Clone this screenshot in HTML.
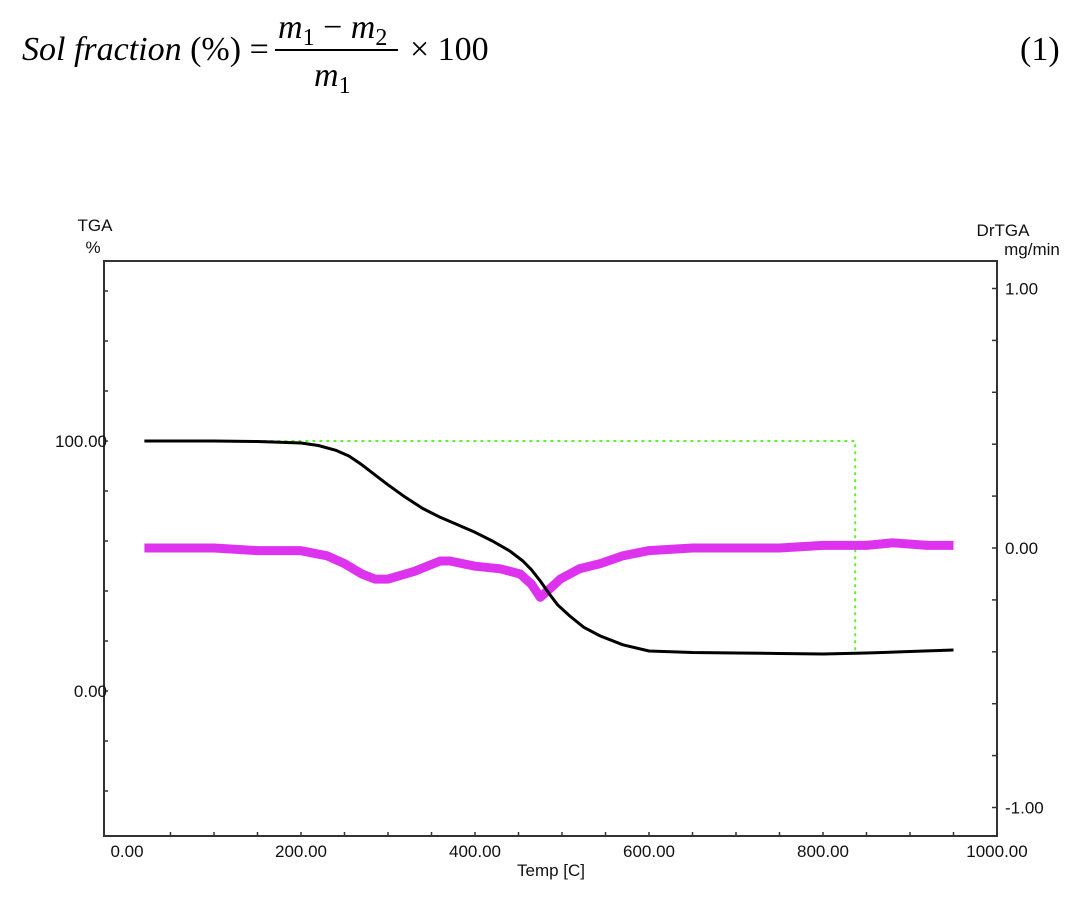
<!DOCTYPE html>
<html><head><meta charset="utf-8"><style>
html,body{margin:0;padding:0;background:#fff;}
svg{display:block;}
.ax{font-family:"Liberation Sans",sans-serif;font-size:17px;fill:#111;}
.eq{font-family:"Liberation Serif",serif;font-size:34px;fill:#000;}
</style></head><body>
<svg id="chart" width="1078" height="903" viewBox="0 0 1078 903" xmlns="http://www.w3.org/2000/svg">
<g>
<text class="eq" x="22" y="60" font-style="italic">Sol fraction <tspan font-style="normal">(%) =</tspan></text>
<text class="eq" x="278" y="38" font-style="italic">m<tspan font-size="24" dy="7" font-style="normal">1</tspan><tspan dy="-7" font-style="normal"> − </tspan>m<tspan font-size="24" dy="7" font-style="normal">2</tspan></text>
<line x1="275" y1="50" x2="398" y2="50" stroke="#000" stroke-width="2"/>
<text class="eq" x="314" y="86" font-style="italic">m<tspan font-size="24" dy="7" font-style="normal">1</tspan></text>
<text class="eq" x="410" y="60">× 100</text>
<text class="eq" x="1020" y="60">(1)</text>
</g>
<g id="plot"></g>
</svg>
<script>
const xTicks=[0,200,400,600,800,1000];
const xTickLabels=["0.00","200.00","400.00","600.00","800.00","1000.00"];
const leftTicks=[0,100];
const leftTickLabels=["0.00","100.00"];
const rightTicks=[-1,0,1];
const rightTickLabels=["-1.00","0.00","1.00"];
const tgaTemp=[20,100,150,200,220,240,255,270,285,300,320,340,360,380,400,420,440,455,465,475,485,495,509,525,544,570,600,650,700,750,800,850,900,950];
const tgaVal=[100,100,99.8,99.2,98.2,96.3,94,90.5,86.5,82.5,77.5,73,69.5,66.5,63.5,60,56,52,48.5,44,39,34.5,30,25.5,22,18.5,16,15.4,15.2,15,14.8,15.2,15.8,16.4];
const dtgTemp=[20,60,100,150,199,230,250,270,285,300,330,360,371,400,429,452,465,475,485,498,520,544,570,600,650,700,750,800,850,880,920,950];
const dtgVal=[0,0,0,-0.01,-0.01,-0.03,-0.06,-0.1,-0.12,-0.12,-0.09,-0.05,-0.05,-0.07,-0.08,-0.1,-0.14,-0.19,-0.16,-0.12,-0.08,-0.06,-0.03,-0.01,0,0,0,0.01,0.01,0.02,0.01,0.01];
const baseTemp=[20,837,837];
const baseVal=[100,100,15];

const X0=104,X1=997,Y0=261,Y1=836;
const x=t=>127+t*0.87;
const yL=v=>691-v*2.5;
const yR=v=>548-v*259.5;
const NS="http://www.w3.org/2000/svg";
const g=document.getElementById('plot');
function mk(tag,attrs){const e=document.createElementNS(NS,tag);for(const k in attrs)e.setAttribute(k,attrs[k]);g.appendChild(e);return e;}

let fr=mk('rect',{x:X0,y:Y0,width:X1-X0,height:Y1-Y0,fill:'none',stroke:'#333','stroke-width':2});



for(let t=50;t<1000;t+=50){let l=mk('line',{x1:x(t),x2:x(t),y1:Y1,y2:Y1-4,stroke:'#333','stroke-width':1.5});

}
xTicks.forEach((t,i)=>{let tx=mk('text',{x:x(t),y:Y1+21,'text-anchor':'middle',class:'ax'});tx.textContent=xTickLabels[i];

});
for(let v=-40;v<=160;v+=20){let l=mk('line',{x1:X0,x2:X0+4,y1:yL(v),y2:yL(v),stroke:'#333','stroke-width':1.5});

}
leftTicks.forEach((v,i)=>{let tx=mk('text',{x:X0+3,y:yL(v)+6,'text-anchor':'end',class:'ax'});tx.textContent=leftTickLabels[i];

});
for(let v=-1;v<=1.01;v+=0.2){let l=mk('line',{x1:X1,x2:X1-5,y1:yR(v),y2:yR(v),stroke:'#333','stroke-width':1.5});

}
rightTicks.forEach((v,i)=>{let tx=mk('text',{x:1005,y:yR(v)+6,class:'ax'});tx.textContent=rightTickLabels[i];

});

function txt(s,xx,yy,anchor,name){let t=mk('text',{x:xx,y:yy,'text-anchor':anchor,class:'ax'});t.textContent=s;

}
txt('TGA',95,231,'middle','left-axis-title');
txt('%',93,253,'middle','left-axis-unit');
txt('DrTGA',1003,236,'middle','right-axis-title');
txt('mg/min',1032,255,'middle','right-axis-unit');
txt('Temp  [C]',551,876,'middle','x-axis-title');

function path(xs,ys,fy){return xs.map((t,i)=>(i?'L':'M')+x(t).toFixed(1)+','+fy(ys[i]).toFixed(1)).join(' ');}
let b=mk('path',{d:path(baseTemp,baseVal,yL),fill:'none',stroke:'#66ee33','stroke-width':2,'stroke-dasharray':'3,4'});


let d=mk('path',{d:path(dtgTemp,dtgVal,yR),fill:'none',stroke:'#dd33ee','stroke-width':9,'stroke-linejoin':'round'});


let tg=mk('path',{d:path(tgaTemp,tgaVal,yL),fill:'none',stroke:'#000','stroke-width':3,'stroke-linejoin':'round'});


</script>
</body></html>
